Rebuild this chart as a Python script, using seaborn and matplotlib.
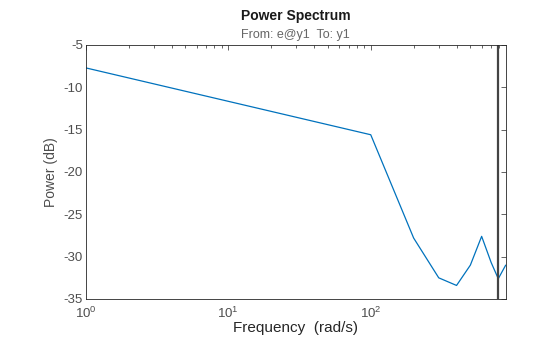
import matplotlib
matplotlib.use("Agg")
import matplotlib.pyplot as plt
import seaborn as sns
import pandas as pd
from matplotlib.ticker import LogLocator, NullFormatter

freq = [1, 100, 200, 300, 400, 500, 600, 700, 785, 885]
power = [-7.7, -15.6, -27.8, -32.5, -33.4, -31.0, -27.6, -30.7, -32.6, -31.0]
nyquist = 785
title = "Power Spectrum"
subtitle = "From: e@y1  To: y1"

sns.set_theme(style="white")
plt.rcParams['font.family'] = ['Liberation Sans', 'DejaVu Sans']
plt.rcParams['mathtext.fontset'] = 'custom'
plt.rcParams['mathtext.rm'] = 'Liberation Sans'
plt.rcParams['mathtext.it'] = 'Liberation Sans'
plt.rcParams['axes.unicode_minus'] = False

df = pd.DataFrame({"freq": freq, "power": power})

fig = plt.figure(figsize=(5.6, 3.37), dpi=100)
ax = fig.add_axes([85.7/560, 38/337, 420/560, 254/337])
sns.lineplot(data=df, x="freq", y="power", ax=ax, color="#0072BD", linewidth=0.9)
ax.axvline(nyquist, color="#444444", linewidth=1.6)
ax.set_xscale("log")
ax.set_xlim(1, 885)
ax.set_ylim(-35, -5)
ax.set_yticks(range(-35, -4, 5))
ax.xaxis.set_major_locator(LogLocator(base=10))
ax.xaxis.set_minor_locator(LogLocator(base=10, subs=range(2, 10)))
ax.xaxis.set_minor_formatter(NullFormatter())

gray = "#4D4D4D"
for s in ax.spines.values():
    s.set_color("#262626")
    s.set_linewidth(0.6)
ax.tick_params(axis="both", which="both", direction="in", top=True, right=True,
               colors="#262626", labelcolor=gray, labelsize=9.5, width=0.5)
ax.tick_params(which="major", length=3.5, pad=2)
ax.tick_params(which="minor", length=2)
ax.tick_params(axis="x", which="major", pad=5)
ax.set_xlabel("Frequency  (rad/s)", fontsize=11, color="#262626", labelpad=0)
ax.set_ylabel("Power (dB)", fontsize=10, color=gray, labelpad=4)
fig.text(ax.get_position().x0 + ax.get_position().width/2, 1 - 16/337, title,
         ha="center", va="center", fontsize=10, fontweight="bold", color="#1a1a1a")
fig.text(ax.get_position().x0 + ax.get_position().width/2, 1 - 35/337, subtitle,
         ha="center", va="center", fontsize=9, color="#666666")
fig.savefig("out.png", dpi=100)
